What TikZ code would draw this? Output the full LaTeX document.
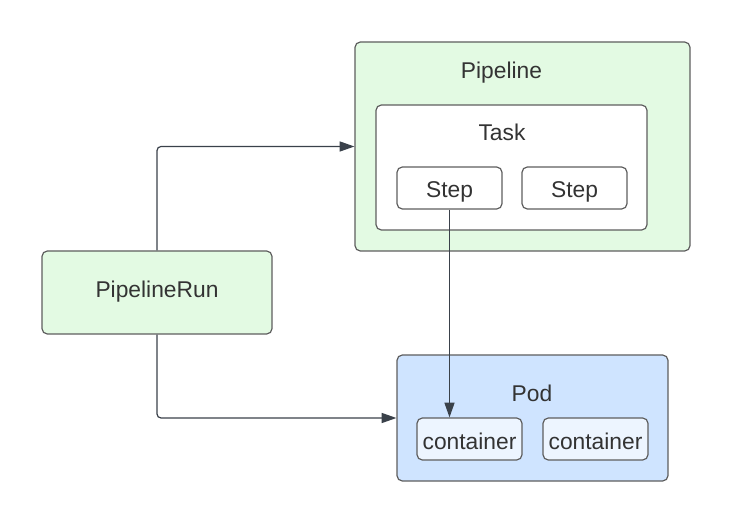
\documentclass[tikz,border=0pt]{standalone}
\usepackage{fontspec}
\setmainfont{Liberation Sans}
\usetikzlibrary{arrows.meta}

\definecolor{greenfill}{HTML}{E3FAE3}
\definecolor{bluefill}{HTML}{CFE4FF}
\definecolor{boxfill}{HTML}{EDF5FF}
\definecolor{boxline}{HTML}{5E5E5E}
\definecolor{linkline}{HTML}{3A414A}
\definecolor{textcol}{HTML}{333333}

\tikzset{
  box/.style={draw=boxline, line width=0.9pt, rounded corners=4pt, inner sep=0pt,
    text=textcol, font=\fontsize{17.1pt}{20pt}\selectfont},
  title/.style={anchor=base, inner sep=0pt, text=textcol, font=\fontsize{17.1pt}{20pt}\selectfont},
  small/.style={box, minimum width=78.75pt, minimum height=31.5pt, text height=15pt, text depth=0pt},
  link/.style={draw=linkline, line width=0.9pt, rounded corners=3pt,
    -{Triangle[length=11pt,width=7.5pt]}}
}

\begin{document}
\begin{tikzpicture}[x=0.75pt,y=-0.75pt]
  \useasboundingbox (0,0) rectangle (731,523);

  \node (pipeline) at (522.5,146.5) [box, fill=greenfill, minimum width=251.25pt, minimum height=156.75pt] {};
  \node (pipelinetitle) at (501.5,79) [title] {Pipeline};
  \node (task) at (511.5,167.5) [box, fill=white, minimum width=203.25pt, minimum height=93.75pt] {};
  \node (tasktitle) at (502,141) [title] {Task};
  \node (step1) at (449.5,188) [small, fill=white] {Step};
  \node (step2) at (574.5,188) [small, fill=white] {Step};

  \node (run) at (157,292.5) [box, fill=greenfill, minimum width=172.5pt, minimum height=62.25pt,
    text height=12.3pt, text depth=5.5pt] {PipelineRun};

  \node (pod) at (532.5,418) [box, fill=bluefill, minimum width=203.25pt, minimum height=94.5pt] {};
  \node (podtitle) at (532,402) [title] {Pod};
  \node (container1) at (469.5,439) [small, fill=boxfill] {container};
  \node (container2) at (595.5,439) [small, fill=boxfill] {container};

  \draw[link] (run.north) |- (pipeline.west);
  \draw[link] (run.south) |- (pod.west);
  \draw[link] (step1.south) -- (step1.south |- container1.north);
\end{tikzpicture}
\end{document}
